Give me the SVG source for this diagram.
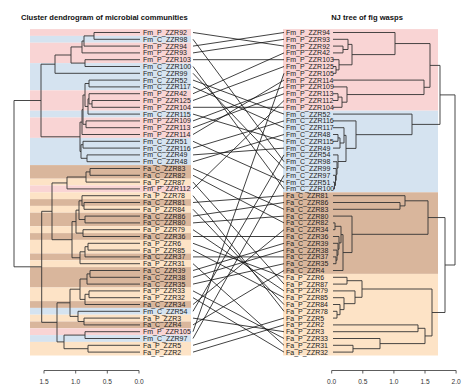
<svg xmlns="http://www.w3.org/2000/svg" width="474" height="388" viewBox="0 0 474 388">
<style>
.lb{font-family:"Liberation Sans",Arial,sans-serif;font-size:7px;fill:#222}
.ttl{font-family:"Liberation Sans",Arial,sans-serif;font-size:7.6px;font-weight:bold;fill:#111}
.ax{font-family:"Liberation Sans",Arial,sans-serif;font-size:6.6px;fill:#333;text-anchor:middle}
.tr{fill:none;stroke:#333;stroke-width:0.9}
.cn line{stroke:#111;stroke-width:0.8}
.axl{fill:none;stroke:#333;stroke-width:0.8}
.pk{fill:#F9D4D4}.bl{fill:#D5E3F0}.br{fill:#D9B69C}.pc{fill:#FDE3C6}
</style>
<rect width="474" height="388" fill="#fff"/>
<text class="ttl" x="21" y="19.5">Cluster dendrogram of microbial communities</text>
<text class="ttl" x="367" y="19.5" text-anchor="middle">NJ tree of fig wasps</text>

<g id="left-bands">
<rect class="pk" x="30" y="29.1" width="161" height="6.8"/>
<rect class="bl" x="30" y="35.9" width="161" height="6.8"/>
<rect class="pk" x="30" y="42.7" width="161" height="20.4"/>
<rect class="bl" x="30" y="63.1" width="161" height="27.2"/>
<rect class="pk" x="30" y="90.3" width="161" height="20.4"/>
<rect class="bl" x="30" y="110.7" width="161" height="6.8"/>
<rect class="pk" x="30" y="117.5" width="161" height="20.4"/>
<rect class="bl" x="30" y="137.9" width="161" height="27.2"/>
<rect class="br" x="30" y="165.1" width="161" height="13.6"/>
<rect class="pc" x="30" y="178.7" width="161" height="6.8"/>
<rect class="pk" x="30" y="185.5" width="161" height="6.8"/>
<rect class="pc" x="30" y="192.3" width="161" height="6.8"/>
<rect class="br" x="30" y="199.1" width="161" height="6.8"/>
<rect class="pc" x="30" y="205.9" width="161" height="6.8"/>
<rect class="br" x="30" y="212.7" width="161" height="13.6"/>
<rect class="pc" x="30" y="226.3" width="161" height="6.8"/>
<rect class="br" x="30" y="233.1" width="161" height="6.8"/>
<rect class="pc" x="30" y="239.9" width="161" height="13.6"/>
<rect class="br" x="30" y="253.5" width="161" height="6.8"/>
<rect class="pc" x="30" y="260.3" width="161" height="6.8"/>
<rect class="br" x="30" y="267.1" width="161" height="20.4"/>
<rect class="pc" x="30" y="287.5" width="161" height="13.6"/>
<rect class="br" x="30" y="301.1" width="161" height="6.8"/>
<rect class="bl" x="30" y="307.9" width="161" height="6.8"/>
<rect class="pc" x="30" y="314.7" width="161" height="6.8"/>
<rect class="br" x="30" y="321.5" width="161" height="6.8"/>
<rect class="pk" x="30" y="328.3" width="161" height="6.8"/>
<rect class="bl" x="30" y="335.1" width="161" height="6.8"/>
<rect class="pc" x="30" y="341.9" width="161" height="13.6"/>
</g>

<g id="right-bands">
<rect class="pk" x="283" y="29.1" width="155" height="81.6"/>
<rect class="bl" x="283" y="110.7" width="155" height="81.6"/>
<rect class="br" x="283" y="192.3" width="155" height="81.6"/>
<rect class="pc" x="283" y="273.9" width="155" height="81.6"/>
</g>

<g id="left-tree" class="tr">
<path d="M140 32.5H94V39.3H140M94 35.9H84V46.1H140M84 41H82V52.9H140M140 59.7H85V66.5H140M82 46.95H71V63.1H85M71 55H55V73.3H140"/>
<path d="M140 80.1H89V86.9H140M140 100.5H92V107.3H140M140 93.7H89V103.9H92M89 98.8H88V114.1H140M89 83.5H85V106.45H88M140 120.9H86V127.7H140M85 95H83V124.3H86M83 109.65H82V134.5H140M140 141.3H83V148.1H140M140 154.9H87V161.7H140M83 144.7H81V158.3H87M82 122.1H80V151.5H81M55 64.2H41V136.8H80"/>
<path d="M140 168.5H90V175.3H140M90 171.9H86V182.1H140M86 177H67V188.9H140M140 202.5H84V209.3H140M140 195.7H82V205.9H84M140 216.1H85V222.9H140M82 200.8H79V219.5H85M140 229.7H83V236.5H140M79 210.15H76V233.1H83M140 243.3H88V250.1H140M88 246.7H85V256.9H140M85 251.8H80V263.7H140M76 221.6H72V257.75H80M67 182.95H52V239.7H72"/>
<path d="M140 270.5H90V277.3H140M90 273.9H87V284.1H140M140 290.9H89V297.7H140M89 294.3H85V304.5H140M87 279H80V299.4H85M140 318.1H84V324.9H140M140 311.3H78V321.5H84M80 289.2H70V316.4H78M140 331.7H85V338.5H140M140 345.3H88V352.1H140M85 335.1H64V348.7H88M70 302.8H57V341.9H64M52 211.3H41.7V322.35H57M41 100.5H14V266.8H41.7"/>
</g>

<g id="right-tree" class="tr" transform="translate(0,1)">
<path d="M333 45.1H343V51.9H333M333 38.3H348V48.5H343M333 65.5H336V72.3H333M333 58.7H339V68.9H336M348 43.4H352V63.8H339M333 31.5H395V53.6H352M333 92.7H338V99.5H333M338 96.1H342V106.3H333M333 85.9H347V101.2H342M333 79.1H424V93.55H347M395 42.55H430V86.3H424"/>
<path d="M333 133.5H338V140.3H333M338 136.9H340V147.1H333M333 126.7H344V142H340M333 181.1H334.5V187.9H333M333 174.3H335.5V184.5H334.5M333 167.5H336.2V179.4H335.5M333 160.7H337V173.45H336.2M333 153.9H338V167.1H337M344 134.35H346V160.5H338M333 119.9H356V147.4H346M333 113.1H412V133.65H356M430 64.4H440V123.4H412"/>
<path d="M333 221.9H335V228.7H333M333 255.9H336V262.7H333M333 249.1H337V259.3H336M333 242.3H338V254.2H337M333 235.5H339V248.25H338M335 225.3H341V241.9H339M341 233.6H343V269.5H333M333 215.1H352V251.55H343M333 201.5H400V208.3H333M333 194.7H405V204.9H400M405 199.8H428V233.3H352"/>
<path d="M333 276.3H347V283.1H333M333 310.3H337V317.1H333M333 303.5H340V313.7H337M333 296.7H344V308.6H340M333 289.9H355V302.65H344M347 279.7H362V296.3H355M333 323.9H418V330.7H333M333 344.3H353V351.1H333M333 337.5H380V347.7H353M418 327.3H425V342.6H380M362 288H432V334.95H425M428 216.55H445V311.5H432M440 93.9H455V264H445"/>
</g>

<g id="connectors" class="cn">
<line x1="193" y1="32.5" x2="284" y2="46.1"/>
<line x1="193" y1="39.3" x2="284" y2="161.7"/>
<line x1="193" y1="46.1" x2="284" y2="32.5"/>
<line x1="193" y1="52.9" x2="284" y2="39.3"/>
<line x1="193" y1="59.7" x2="284" y2="59.7"/>
<line x1="193" y1="66.5" x2="284" y2="188.9"/>
<line x1="193" y1="73.3" x2="284" y2="168.5"/>
<line x1="193" y1="80.1" x2="284" y2="114.1"/>
<line x1="193" y1="86.9" x2="284" y2="127.7"/>
<line x1="193" y1="93.7" x2="284" y2="52.9"/>
<line x1="193" y1="100.5" x2="284" y2="66.5"/>
<line x1="193" y1="107.3" x2="284" y2="107.3"/>
<line x1="193" y1="114.1" x2="284" y2="141.3"/>
<line x1="193" y1="120.9" x2="284" y2="86.9"/>
<line x1="193" y1="127.7" x2="284" y2="93.7"/>
<line x1="193" y1="134.5" x2="284" y2="80.1"/>
<line x1="193" y1="141.3" x2="284" y2="182.1"/>
<line x1="193" y1="148.1" x2="284" y2="120.9"/>
<line x1="193" y1="154.9" x2="284" y2="148.1"/>
<line x1="193" y1="161.7" x2="284" y2="134.5"/>
<line x1="193" y1="168.5" x2="284" y2="209.3"/>
<line x1="193" y1="175.3" x2="284" y2="222.9"/>
<line x1="193" y1="182.1" x2="284" y2="284.1"/>
<line x1="193" y1="188.9" x2="284" y2="100.5"/>
<line x1="193" y1="195.7" x2="284" y2="311.3"/>
<line x1="193" y1="202.5" x2="284" y2="195.7"/>
<line x1="193" y1="209.3" x2="284" y2="304.5"/>
<line x1="193" y1="216.1" x2="284" y2="202.5"/>
<line x1="193" y1="222.9" x2="284" y2="216.1"/>
<line x1="193" y1="229.7" x2="284" y2="290.9"/>
<line x1="193" y1="236.5" x2="284" y2="236.5"/>
<line x1="193" y1="243.3" x2="284" y2="277.3"/>
<line x1="193" y1="250.1" x2="284" y2="297.7"/>
<line x1="193" y1="256.9" x2="284" y2="256.9"/>
<line x1="193" y1="263.7" x2="284" y2="345.3"/>
<line x1="193" y1="270.5" x2="284" y2="243.3"/>
<line x1="193" y1="277.3" x2="284" y2="250.1"/>
<line x1="193" y1="284.1" x2="284" y2="263.7"/>
<line x1="193" y1="290.9" x2="284" y2="338.5"/>
<line x1="193" y1="297.7" x2="284" y2="352.1"/>
<line x1="193" y1="304.5" x2="284" y2="229.7"/>
<line x1="193" y1="311.3" x2="284" y2="154.9"/>
<line x1="193" y1="318.1" x2="284" y2="331.7"/>
<line x1="193" y1="324.9" x2="284" y2="270.5"/>
<line x1="193" y1="331.7" x2="284" y2="73.3"/>
<line x1="193" y1="338.5" x2="284" y2="175.3"/>
<line x1="193" y1="345.3" x2="284" y2="318.1"/>
<line x1="193" y1="352.1" x2="284" y2="324.9"/>
</g>

<g id="left-labels" class="lb">
<g id="L-Fm_P_ZZR92"><text x="143" y="34.9">Fm_P_ZZR92</text></g>
<g id="L-Fm_C_ZZR98"><text x="143" y="41.7">Fm_C_ZZR98</text></g>
<g id="L-Fm_P_ZZR94"><text x="143" y="48.5">Fm_P_ZZR94</text></g>
<g id="L-Fm_P_ZZR93"><text x="143" y="55.3">Fm_P_ZZR93</text></g>
<g id="L-Fm_P_ZZR103"><text x="143" y="62.1">Fm_P_ZZR103</text></g>
<g id="L-Fm_C_ZZR100"><text x="143" y="68.9">Fm_C_ZZR100</text></g>
<g id="L-Fm_C_ZZR99"><text x="143" y="75.7">Fm_C_ZZR99</text></g>
<g id="L-Fm_C_ZZR52"><text x="143" y="82.5">Fm_C_ZZR52</text></g>
<g id="L-Fm_C_ZZR117"><text x="143" y="89.3">Fm_C_ZZR117</text></g>
<g id="L-Fm_P_ZZR42"><text x="143" y="96.1">Fm_P_ZZR42</text></g>
<g id="L-Fm_P_ZZR125"><text x="143" y="102.9">Fm_P_ZZR125</text></g>
<g id="L-Fm_P_ZZR104"><text x="143" y="109.7">Fm_P_ZZR104</text></g>
<g id="L-Fm_C_ZZR115"><text x="143" y="116.5">Fm_C_ZZR115</text></g>
<g id="L-Fm_P_ZZR109"><text x="143" y="123.3">Fm_P_ZZR109</text></g>
<g id="L-Fm_P_ZZR113"><text x="143" y="130.1">Fm_P_ZZR113</text></g>
<g id="L-Fm_P_ZZR114"><text x="143" y="136.9">Fm_P_ZZR114</text></g>
<g id="L-Fm_C_ZZR51"><text x="143" y="143.7">Fm_C_ZZR51</text></g>
<g id="L-Fm_C_ZZR116"><text x="143" y="150.5">Fm_C_ZZR116</text></g>
<g id="L-Fm_C_ZZR49"><text x="143" y="157.3">Fm_C_ZZR49</text></g>
<g id="L-Fm_C_ZZR48"><text x="143" y="164.1">Fm_C_ZZR48</text></g>
<g id="L-Fa_C_ZZR83"><text x="143" y="170.9">Fa_C_ZZR83</text></g>
<g id="L-Fa_C_ZZR82"><text x="143" y="177.7">Fa_C_ZZR82</text></g>
<g id="L-Fa_P_ZZR87"><text x="143" y="184.5">Fa_P_ZZR87</text></g>
<g id="L-Fm_P_ZZR112"><text x="143" y="191.3">Fm_P_ZZR112</text></g>
<g id="L-Fa_P_ZZR78"><text x="143" y="198.1">Fa_P_ZZR78</text></g>
<g id="L-Fa_C_ZZR81"><text x="143" y="204.9">Fa_C_ZZR81</text></g>
<g id="L-Fa_P_ZZR84"><text x="143" y="211.7">Fa_P_ZZR84</text></g>
<g id="L-Fa_C_ZZR86"><text x="143" y="218.5">Fa_C_ZZR86</text></g>
<g id="L-Fa_C_ZZR80"><text x="143" y="225.3">Fa_C_ZZR80</text></g>
<g id="L-Fa_P_ZZR79"><text x="143" y="232.1">Fa_P_ZZR79</text></g>
<g id="L-Fa_C_ZZR36"><text x="143" y="238.9">Fa_C_ZZR36</text></g>
<g id="L-Fa_P_ZZR6"><text x="143" y="245.7">Fa_P_ZZR6</text></g>
<g id="L-Fa_P_ZZR85"><text x="143" y="252.5">Fa_P_ZZR85</text></g>
<g id="L-Fa_C_ZZR37"><text x="143" y="259.3">Fa_C_ZZR37</text></g>
<g id="L-Fa_P_ZZR31"><text x="143" y="266.1">Fa_P_ZZR31</text></g>
<g id="L-Fa_C_ZZR39"><text x="143" y="272.9">Fa_C_ZZR39</text></g>
<g id="L-Fa_C_ZZR38"><text x="143" y="279.7">Fa_C_ZZR38</text></g>
<g id="L-Fa_C_ZZR35"><text x="143" y="286.5">Fa_C_ZZR35</text></g>
<g id="L-Fa_P_ZZR33"><text x="143" y="293.3">Fa_P_ZZR33</text></g>
<g id="L-Fa_P_ZZR32"><text x="143" y="300.1">Fa_P_ZZR32</text></g>
<g id="L-Fa_C_ZZR34"><text x="143" y="306.9">Fa_C_ZZR34</text></g>
<g id="L-Fm_C_ZZR54"><text x="143" y="313.7">Fm_C_ZZR54</text></g>
<g id="L-Fa_P_ZZR3"><text x="143" y="320.5">Fa_P_ZZR3</text></g>
<g id="L-Fa_C_ZZR4"><text x="143" y="327.3">Fa_C_ZZR4</text></g>
<g id="L-Fm_P_ZZR105"><text x="143" y="334.1">Fm_P_ZZR105</text></g>
<g id="L-Fm_C_ZZR97"><text x="143" y="340.9">Fm_C_ZZR97</text></g>
<g id="L-Fa_P_ZZR5"><text x="143" y="347.7">Fa_P_ZZR5</text></g>
<g id="L-Fa_P_ZZR2"><text x="143" y="354.5">Fa_P_ZZR2</text></g>
</g>

<g id="right-labels" class="lb">
<g id="R-Fm_P_ZZR94"><text x="286" y="34.9">Fm_P_ZZR94</text></g>
<g id="R-Fm_P_ZZR93"><text x="286" y="41.7">Fm_P_ZZR93</text></g>
<g id="R-Fm_P_ZZR92"><text x="286" y="48.5">Fm_P_ZZR92</text></g>
<g id="R-Fm_P_ZZR42"><text x="286" y="55.3">Fm_P_ZZR42</text></g>
<g id="R-Fm_P_ZZR103"><text x="286" y="62.1">Fm_P_ZZR103</text></g>
<g id="R-Fm_P_ZZR125"><text x="286" y="68.9">Fm_P_ZZR125</text></g>
<g id="R-Fm_P_ZZR105"><text x="286" y="75.7">Fm_P_ZZR105</text></g>
<g id="R-Fm_P_ZZR114"><text x="286" y="82.5">Fm_P_ZZR114</text></g>
<g id="R-Fm_P_ZZR109"><text x="286" y="89.3">Fm_P_ZZR109</text></g>
<g id="R-Fm_P_ZZR113"><text x="286" y="96.1">Fm_P_ZZR113</text></g>
<g id="R-Fm_P_ZZR112"><text x="286" y="102.9">Fm_P_ZZR112</text></g>
<g id="R-Fm_P_ZZR104"><text x="286" y="109.7">Fm_P_ZZR104</text></g>
<g id="R-Fm_C_ZZR52"><text x="286" y="116.5">Fm_C_ZZR52</text></g>
<g id="R-Fm_C_ZZR116"><text x="286" y="123.3">Fm_C_ZZR116</text></g>
<g id="R-Fm_C_ZZR117"><text x="286" y="130.1">Fm_C_ZZR117</text></g>
<g id="R-Fm_C_ZZR48"><text x="286" y="136.9">Fm_C_ZZR48</text></g>
<g id="R-Fm_C_ZZR115"><text x="286" y="143.7">Fm_C_ZZR115</text></g>
<g id="R-Fm_C_ZZR49"><text x="286" y="150.5">Fm_C_ZZR49</text></g>
<g id="R-Fm_C_ZZR54"><text x="286" y="157.3">Fm_C_ZZR54</text></g>
<g id="R-Fm_C_ZZR98"><text x="286" y="164.1">Fm_C_ZZR98</text></g>
<g id="R-Fm_C_ZZR99"><text x="286" y="170.9">Fm_C_ZZR99</text></g>
<g id="R-Fm_C_ZZR97"><text x="286" y="177.7">Fm_C_ZZR97</text></g>
<g id="R-Fm_C_ZZR51"><text x="286" y="184.5">Fm_C_ZZR51</text></g>
<g id="R-Fm_C_ZZR100"><text x="286" y="191.3">Fm_C_ZZR100</text></g>
<g id="R-Fa_C_ZZR81"><text x="286" y="198.1">Fa_C_ZZR81</text></g>
<g id="R-Fa_C_ZZR86"><text x="286" y="204.9">Fa_C_ZZR86</text></g>
<g id="R-Fa_C_ZZR83"><text x="286" y="211.7">Fa_C_ZZR83</text></g>
<g id="R-Fa_C_ZZR80"><text x="286" y="218.5">Fa_C_ZZR80</text></g>
<g id="R-Fa_C_ZZR82"><text x="286" y="225.3">Fa_C_ZZR82</text></g>
<g id="R-Fa_C_ZZR34"><text x="286" y="232.1">Fa_C_ZZR34</text></g>
<g id="R-Fa_C_ZZR36"><text x="286" y="238.9">Fa_C_ZZR36</text></g>
<g id="R-Fa_C_ZZR39"><text x="286" y="245.7">Fa_C_ZZR39</text></g>
<g id="R-Fa_C_ZZR38"><text x="286" y="252.5">Fa_C_ZZR38</text></g>
<g id="R-Fa_C_ZZR37"><text x="286" y="259.3">Fa_C_ZZR37</text></g>
<g id="R-Fa_C_ZZR35"><text x="286" y="266.1">Fa_C_ZZR35</text></g>
<g id="R-Fa_C_ZZR4"><text x="286" y="272.9">Fa_C_ZZR4</text></g>
<g id="R-Fa_P_ZZR6"><text x="286" y="279.7">Fa_P_ZZR6</text></g>
<g id="R-Fa_P_ZZR87"><text x="286" y="286.5">Fa_P_ZZR87</text></g>
<g id="R-Fa_P_ZZR79"><text x="286" y="293.3">Fa_P_ZZR79</text></g>
<g id="R-Fa_P_ZZR85"><text x="286" y="300.1">Fa_P_ZZR85</text></g>
<g id="R-Fa_P_ZZR84"><text x="286" y="306.9">Fa_P_ZZR84</text></g>
<g id="R-Fa_P_ZZR78"><text x="286" y="313.7">Fa_P_ZZR78</text></g>
<g id="R-Fa_P_ZZR5"><text x="286" y="320.5">Fa_P_ZZR5</text></g>
<g id="R-Fa_P_ZZR2"><text x="286" y="327.3">Fa_P_ZZR2</text></g>
<g id="R-Fa_P_ZZR3"><text x="286" y="334.1">Fa_P_ZZR3</text></g>
<g id="R-Fa_P_ZZR33"><text x="286" y="340.9">Fa_P_ZZR33</text></g>
<g id="R-Fa_P_ZZR31"><text x="286" y="347.7">Fa_P_ZZR31</text></g>
<g id="R-Fa_P_ZZR32"><text x="286" y="354.5">Fa_P_ZZR32</text></g>
</g>

<g id="left-axis">
<path class="axl" d="M44 373.5V370.5H139V373.5M75.7 370.5V373.5M107.3 370.5V373.5"/>
<text class="ax" x="44" y="384">1.5</text>
<text class="ax" x="75.7" y="384">1.0</text>
<text class="ax" x="107.3" y="384">0.5</text>
<text class="ax" x="139" y="384">0.0</text>
</g>
<g id="right-axis">
<path class="axl" d="M331.7 373.5V370.5H456.1V373.5M362.8 370.5V373.5M393.9 370.5V373.5M425 370.5V373.5"/>
<text class="ax" x="331.7" y="384">0.0</text>
<text class="ax" x="362.8" y="384">0.5</text>
<text class="ax" x="393.9" y="384">1.0</text>
<text class="ax" x="425" y="384">1.5</text>
<text class="ax" x="456.1" y="384">2.0</text>
</g>
</svg>
